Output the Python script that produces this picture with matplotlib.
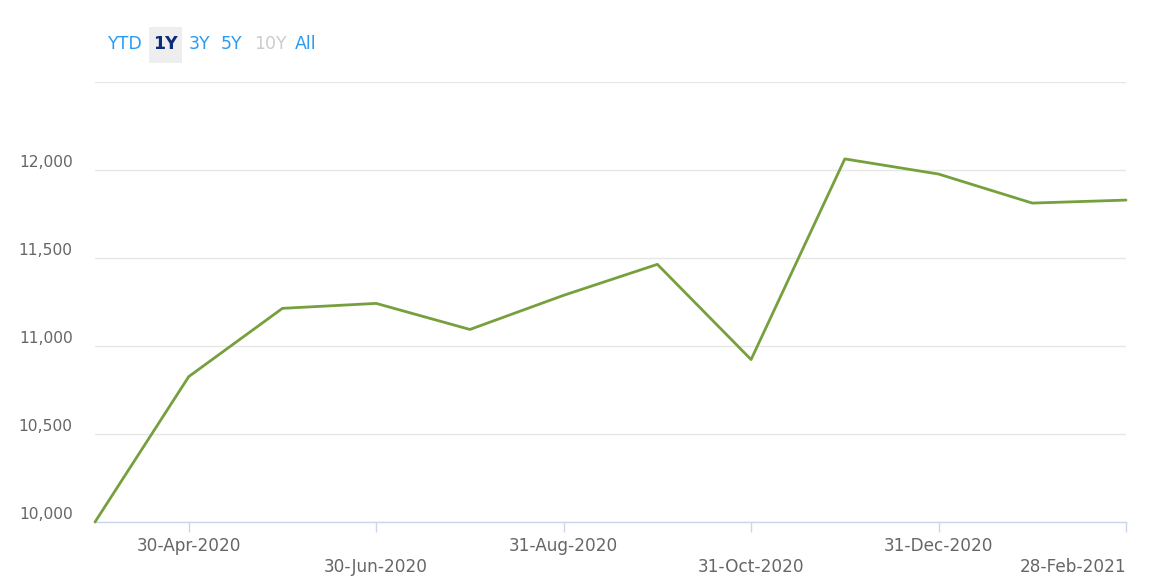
import matplotlib.pyplot as plt
import numpy as np

# monthly values (growth of 10,000)
dates = ['31-Mar-2020', '30-Apr-2020', '31-May-2020', '30-Jun-2020', '31-Jul-2020',
         '31-Aug-2020', '30-Sep-2020', '31-Oct-2020', '30-Nov-2020', '31-Dec-2020',
         '31-Jan-2021', '28-Feb-2021']
values = [10000, 10826, 11214, 11242, 11094, 11288, 11464, 10923, 12063, 11977,
          11812, 11829]
y_ticks = [10000, 10500, 11000, 11500, 12000, 12500]
buttons = ['YTD', '1Y', '3Y', '5Y', '10Y', 'All']

plt.rcParams['font.family'] = ['DejaVu Sans']

fig = plt.figure(figsize=(11.7, 5.86), dpi=100)
ax = fig.add_axes([95 / 1170, 1 - 522 / 586, (1126 - 95) / 1170, (522 - 82) / 586])

x = np.arange(len(dates))
ax.plot(x, values, color='#76a03d', lw=2.0, clip_on=False, solid_capstyle='round',
        solid_joinstyle='round', zorder=3)

ax.set_xlim(0, len(dates) - 1)
ax.set_ylim(10000, 12500)

# y axis: gridlines, labels sit just above the line
ax.set_yticks(y_ticks)
ax.set_yticklabels([f'{v:,}' if v < 12500 else '' for v in y_ticks])
ax.grid(axis='y', color='#e6e6e6', lw=1)
ax.tick_params(axis='y', length=0, pad=16, labelsize=11.2, labelcolor='#666666')
for lab in ax.get_yticklabels():
    lab.set_verticalalignment('bottom')

# x axis: every other month, labels staggered on two rows
tick_idx = list(range(1, len(dates), 2))
labels = []
for k, i in enumerate(tick_idx):
    labels.append(dates[i] if k % 2 == 0 else '\n' + dates[i])
ax.set_xticks(tick_idx)
ax.set_xticklabels(labels)
ax.tick_params(axis='x', length=7.5, width=1, color='#ccd6eb', pad=3.5,
               labelsize=12.2, labelcolor='#666666')
ax.get_xticklabels()[-1].set_horizontalalignment('right')

for s in ['top', 'left', 'right']:
    ax.spines[s].set_visible(False)
ax.spines['bottom'].set_color('#ccd6eb')
ax.spines['bottom'].set_linewidth(1)
ax.set_axisbelow(True)

# range selector buttons
btn_x = [125, 165, 199, 231, 270, 306]
for name, bx in zip(buttons, btn_x):
    color = '#2b9af3'
    weight = 'normal'
    if name == '1Y':
        color = '#0b2c7a'
        weight = 'bold'
        fig.patches.append(plt.Rectangle((149 / 1170, 1 - 63 / 586), 33 / 1170, 36 / 586,
                                         transform=fig.transFigure, facecolor='#eeeeee',
                                         edgecolor='none'))
    elif name == '10Y':
        color = '#cccccc'
    fig.text(bx / 1170, 1 - 44 / 586, name, ha='center', va='center', fontsize=12.5,
             color=color, fontweight=weight)

fig.savefig('out.png', dpi=100, facecolor='white')
